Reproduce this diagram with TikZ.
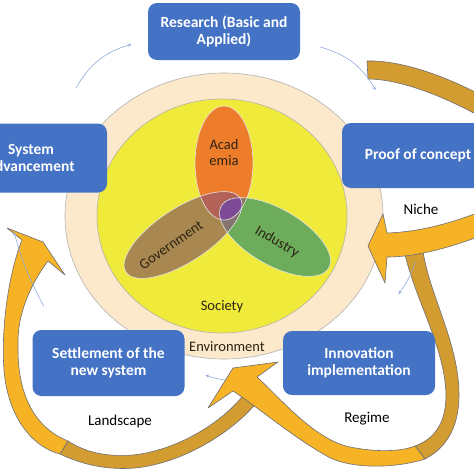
\documentclass[tikz,border=0pt]{standalone}
\usepackage{fontspec}
\setmainfont{Carlito}
\definecolor{boxblue}{RGB}{68,114,196}
\definecolor{envbeige}{RGB}{252,232,202}
\definecolor{socyellow}{RGB}{240,234,58}
\definecolor{acadorange}{RGB}{238,125,43}
\definecolor{govbrown}{RGB}{168,136,80}
\definecolor{indgreen}{RGB}{108,172,90}
\definecolor{acadgov}{RGB}{178,98,86}
\definecolor{acadind}{RGB}{140,124,92}
\definecolor{govind}{RGB}{132,116,112}
\definecolor{coremix}{RGB}{125,75,150}
\definecolor{goldlight}{RGB}{245,179,37}
\definecolor{golddark}{RGB}{210,156,48}
\definecolor{rimgray}{RGB}{110,110,120}
\definecolor{flowblue}{RGB}{143,170,220}
\tikzset{
  stage/.style={fill=boxblue, rounded corners=9pt, text=white, align=center, inner sep=0pt,
    minimum width=152pt, font=\bfseries\fontsize{15.5}{17.5}\selectfont},
  actor/.style={align=center, inner sep=0pt, text={rgb,255:red,45;green,35;blue,20},
    font=\fontsize{14.5}{16}\selectfont},
  ribbon/.style={draw=rimgray, line width=0.6pt, fill=goldlight},
  ribbon dark/.style={ribbon, fill=golddark},
  flow/.style={->, draw=flowblue, line width=0.6pt},
  venn rim/.style={draw=white!80!gray, line width=0.6pt},
  acad/.style={insert path={(224,163) ellipse [x radius=29, y radius=57]}},
  gov/.style={insert path={[rotate around={33:(183,235)}] (183,235) ellipse [x radius=68, y radius=27]}},
  ind/.style={insert path={[rotate around={-30:(275,237)}] (275,237) ellipse [x radius=62, y radius=28]}},
}
\begin{document}
\begin{tikzpicture}[x=1pt, y=-1pt, font=\fontsize{15}{17}\selectfont, line join=round, line cap=round, >=stealth]
\useasboundingbox (0,0) rectangle (474,474);
\clip (0,0) rectangle (474,474);

% environment and society
\filldraw[fill=envbeige, draw=gray!60, line width=0.6pt] (224,216) ellipse [x radius=159, y radius=143];
\filldraw[fill=socyellow, draw=gray!60, line width=0.6pt] (222,216) ellipse [x radius=125, y radius=117];

% academia, government, industry
\fill[govbrown] [gov];
\fill[indgreen] [ind];
\fill[acadorange] [acad];
\begin{scope}
  \clip [acad];
  \fill[acadgov] [gov];
  \fill[acadind] [ind];
\end{scope}
\begin{scope}
  \clip [gov];
  \fill[govind] [ind];
\end{scope}
\begin{scope}
  \clip [acad];
  \clip [gov];
  \fill[coremix] [ind];
\end{scope}
\draw[venn rim] [gov];
\draw[venn rim] [ind];
\draw[venn rim] [acad];

% landscape loop
\filldraw[ribbon dark] (245,393) .. controls (225,420) and (180,450) .. (133,455)
  .. controls (105,457) and (85,452) .. (68,441) -- (60,454)
  .. controls (85,466) and (110,470) .. (135,468) .. controls (185,463) and (235,430) .. (258,401) -- cycle;
\filldraw[ribbon] (60,454) .. controls (35,448) and (8,420) .. (4,370)
  .. controls (1,330) and (8,275) .. (22,240) -- (7,228) -- (43,242) -- (65,275) -- (48,261)
  .. controls (30,285) and (17,315) .. (18,345) .. controls (17,395) and (35,428) .. (68,441) -- cycle;

% regime loop
\filldraw[ribbon dark] (403,245) .. controls (412,295) and (445,345) .. (446,395)
  .. controls (446,420) and (437,438) .. (415,446) -- (425,459)
  .. controls (450,446) and (459,422) .. (459,395) .. controls (459,340) and (426,290) .. (422,243) -- cycle;
\filldraw[ribbon] (425,459) .. controls (390,470) and (345,468) .. (325,455)
  .. controls (290,435) and (255,405) .. (233,391) -- (208,408) -- (233,368) -- (278,362) -- (257,377)
  .. controls (280,398) and (315,440) .. (350,447) .. controls (375,452) and (400,452) .. (415,446) -- cycle;

% niche loop
\filldraw[ribbon dark] (367,61) .. controls (395,60) and (440,72) .. (490,100) -- (490,122)
  .. controls (438,92) and (395,79) .. (368,79) -- cycle;
\filldraw[ribbon] (500,203) .. controls (460,222) and (420,232) .. (387,233) -- (383,214) -- (368,246)
  -- (385,283) -- (387,257) .. controls (420,257) and (460,245) .. (500,228) -- cycle;

% stages
\node[stage, minimum height=57pt] (research) at (224,31.5) {Research (Basic and\\Applied)};
\node[stage, minimum height=69pt] (system) at (31,158) {System\\advancement};
\node[stage, minimum height=65pt] (proof) at (418,155.5) {Proof of concept};
\node[stage, minimum height=66pt] (settlement) at (108.5,363) {Settlement of the\\new system};
\node[stage, minimum height=64pt] (innovation) at (359,363) {Innovation\\implementation};

% labels
\node (niche) at (421,209) {Niche};
\node (landscape) at (120,421) {Landscape};
\node (regime) at (367,419) {Regime};
\node[actor] (society) at (222,307) {Society};
\node[actor] (environment) at (227,347) {Environment};
\node[actor] (academia) at (224,153) {Acad\\emia};
\node[actor, rotate=35] (government) at (171,245) {Government};
\node[actor, rotate=-30] (industry) at (277,242) {Industry};

% cycle between the stages
\path (system.north) -- coordinate[pos=0.385] (f1a) coordinate[pos=0.86] (f1b) (research.west);
\draw[flow] (f1a) to[bend left=22] (f1b);
\path (research.east) -- coordinate[pos=0.17] (f2a) coordinate[pos=0.64] (f2b) (proof.north);
\draw[flow] (f2a) to[bend left=22] (f2b);
\path (proof.south) to[bend left=35] coordinate[pos=0.45] (f3a) coordinate[pos=0.68] (f3b) (innovation.north);
\draw[flow] (f3a) to[bend left=8] (f3b);
\path (innovation.west) to[bend left=38] coordinate[pos=0.59] (f4a) coordinate[pos=0.78] (f4b) (settlement.east);
\draw[flow] (f4a) to[bend left=5] (f4b);
\path ([xshift=21pt]settlement.north west) -- coordinate[pos=0.17] (f5a) coordinate[pos=0.71] (f5b) ([xshift=-33pt]system.south);
\draw[flow] (f5a) to[bend left=6] (f5b);
\end{tikzpicture}
\end{document}
